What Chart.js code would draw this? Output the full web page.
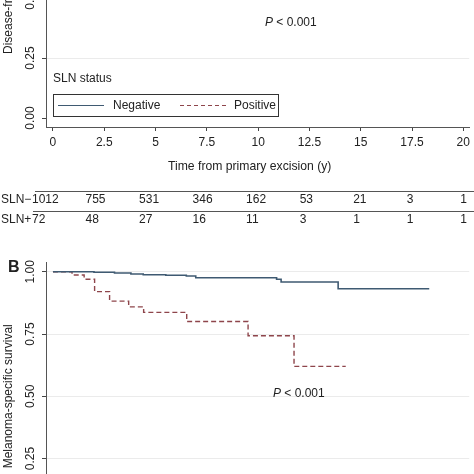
<!DOCTYPE html>
<html><head><meta charset="utf-8">
<script src="https://cdn.jsdelivr.net/npm/chart.js@4.4.0/dist/chart.umd.min.js"></script>
<style>
html,body{margin:0;padding:0;background:#fff;}
body{width:474px;height:474px;overflow:hidden;position:relative;font-family:"Liberation Sans",Arial,sans-serif;color:#222;font-size:12px;}
.abs{position:absolute;white-space:nowrap;line-height:14px;}
#ca{position:absolute;left:0;top:-140px;}
#cb{position:absolute;left:0;top:250px;}
.hl{position:absolute;height:0;border-top:1px solid #555;}
</style></head><body>
<canvas id="ca" width="474" height="370" style="width:474px;height:370px"></canvas>
<canvas id="cb" width="474" height="330" style="width:474px;height:330px"></canvas>
<script>
// ---------- data ----------
const xTicks = [0, 2.5, 5, 7.5, 10, 12.5, 15, 17.5, 20];
const yTicks = [0, 0.25, 0.5, 0.75, 1];
const seriesNames = ['Negative', 'Positive'];
const seriesColors = ['#3f5a72', '#8e454b'];
const xTitle = 'Time from primary excision (y)';

// Panel A (disease-free survival): curves lie above the visible crop
const aNegT = [0, 1, 2, 3, 4, 5, 6, 8, 10, 12, 14, 16, 18.3];
const aNegS = [1, 0.98, 0.96, 0.94, 0.93, 0.92, 0.91, 0.90, 0.89, 0.88, 0.87, 0.86, 0.86];
const aPosT = [0, 1, 2, 3, 4, 6, 8, 10, 12, 14.3];
const aPosS = [1, 0.92, 0.85, 0.80, 0.76, 0.70, 0.66, 0.62, 0.58, 0.58];

// Panel B (melanoma-specific survival)
const bNegT = [0, 2.0, 3.0, 3.8, 4.4, 5.5, 6.5, 6.96, 10.9, 11.12, 13.9, 18.34];
const bNegS = [1, 0.998, 0.995, 0.991, 0.988, 0.986, 0.983, 0.976, 0.970, 0.959, 0.932, 0.932];
const bPosT = [0, 0.93, 1.52, 2.03, 2.76, 3.69, 4.42, 6.52, 9.51, 11.75, 14.27];
const bPosS = [1, 0.987, 0.970, 0.920, 0.882, 0.859, 0.837, 0.800, 0.743, 0.620, 0.620];

// Number-at-risk table
const riskTimes = [0, 2.5, 5, 7.5, 10, 12.5, 15, 17.5, 20];
const riskRowLabels = ['SLN\u2212', 'SLN+'];
const riskNeg = [1012, 755, 531, 346, 162, 53, 21, 3, 1];
const riskPos = [72, 48, 27, 16, 11, 3, 1, 1, 1];

// ---------- chart ----------
Chart.defaults.font.family = '"Liberation Sans", Arial, sans-serif';
Chart.defaults.font.size = 12;
Chart.defaults.color = '#222';

function pts(t, s) { return t.map((v, i) => ({x: v, y: s[i]})); }

function datasets(negT, negS, posT, posS) {
  return [
    {label: seriesNames[0], data: pts(negT, negS), borderColor: seriesColors[0], borderWidth: 1.6,
     stepped: 'before', pointRadius: 0, fill: false},
    {label: seriesNames[1], data: pts(posT, posS), borderColor: seriesColors[1], borderWidth: 1.4,
     borderDash: [5, 3], stepped: 'before', pointRadius: 0, fill: false}
  ];
}

function scales(yTitle) {
  return {
    x: {
      type: 'linear', min: -0.339, max: 20.29,
      afterBuildTicks: s => { s.ticks = xTicks.map(v => ({value: v})); },
      afterFit: s => { s.height = 47; },
      ticks: {autoSkip: false, minRotation: 0, maxRotation: 0, padding: 4, callback: v => String(v), color: '#222'},
      grid: {drawOnChartArea: false, drawTicks: true, tickLength: 4, tickColor: '#444'},
      border: {display: true, color: '#555', width: 1},
      title: {display: false}
    },
    y: {
      type: 'linear', min: -0.0375, max: 1.0375,
      afterBuildTicks: s => { s.ticks = yTicks.map(v => ({value: v})); },
      afterFit: s => { s.width = 46; },
      ticks: {minRotation: 90, maxRotation: 90, padding: 0, crossAlign: 'center',
              callback: v => Number(v).toFixed(2), color: '#222'},
      grid: {color: c => (c.tick && c.tick.value === 0) ? 'rgba(0,0,0,0)' : '#ebebeb',
             lineWidth: 1, drawTicks: true, tickLength: 4, tickColor: '#444'},
      border: {display: true, color: '#555', width: 1},
      title: {display: true, text: yTitle, padding: {top: 1, bottom: 0}, color: '#222'}
    }
  };
}

function opts(yTitle, pad) {
  return {
    responsive: false, animation: false, devicePixelRatio: 1,
    layout: {padding: pad},
    plugins: {legend: {display: false}, tooltip: {enabled: false}},
    scales: scales(yTitle)
  };
}

const chartA = new Chart(document.getElementById('ca'), {
  type: 'line',
  data: {datasets: datasets(aNegT, aNegS, aPosT, aPosS)},
  options: opts('Disease-free survival', {top: 9, left: 0, right: 2, bottom: 56})
});
const chartB = new Chart(document.getElementById('cb'), {
  type: 'line',
  data: {datasets: datasets(bNegT, bNegS, bPosT, bPosS)},
  options: opts('Melanoma-specific survival', {top: 12.4, left: 0, right: 2, bottom: 2.8})
});

// ---------- text overlays ----------
function addText(html, left, centerY, extra) {
  const d = document.createElement('div');
  d.className = 'abs';
  d.innerHTML = html;
  d.style.left = left + 'px';
  d.style.top = (centerY - 7) + 'px';
  if (extra) Object.assign(d.style, extra);
  document.body.appendChild(d);
  return d;
}
function addLine(left, top, width) {
  const d = document.createElement('div');
  d.className = 'hl';
  d.style.left = left + 'px'; d.style.top = top + 'px'; d.style.width = width + 'px';
  document.body.appendChild(d);
}

addText(xTitle, 168, 165.5, {fontSize: '12.2px'});
addText('<i>P</i> &lt; 0.001', 265, 22);
addText('<i>P</i> &lt; 0.001', 273, 393);
addText('SLN status', 53, 78);
addText('B', 8, 267, {fontWeight: 'bold', fontSize: '16px'});

// legend box
const lg = document.createElement('div');
lg.style.cssText = 'position:absolute;left:53px;top:94px;width:224px;height:21px;border:1px solid #333;';
lg.innerHTML =
  '<svg width="224" height="21" style="position:absolute;left:0;top:0">' +
  '<line x1="4" y1="10.5" x2="50" y2="10.5" stroke="' + seriesColors[0] + '" stroke-width="1.2"/>' +
  '<line x1="126" y1="10.5" x2="172" y2="10.5" stroke="' + seriesColors[1] + '" stroke-width="1.2" stroke-dasharray="4,3"/>' +
  '</svg>';
document.body.appendChild(lg);
addText(seriesNames[0], 113, 105);
addText(seriesNames[1], 234, 105);

// risk table, columns placed from chart A's x scale
addLine(35, 191, 439);
addLine(33, 211, 441);
addText(riskRowLabels[0], 1, 199);
addText(riskRowLabels[1], 1, 219);
const xs = chartA.scales.x;
const p0 = xs.getPixelForValue(0);
riskTimes.forEach((t, i) => {
  const left = 32 + (xs.getPixelForValue(t) - p0) * 1.0436;
  addText(String(riskNeg[i]), left, 199);
  addText(String(riskPos[i]), left, 219);
});
</script>
</body></html>
